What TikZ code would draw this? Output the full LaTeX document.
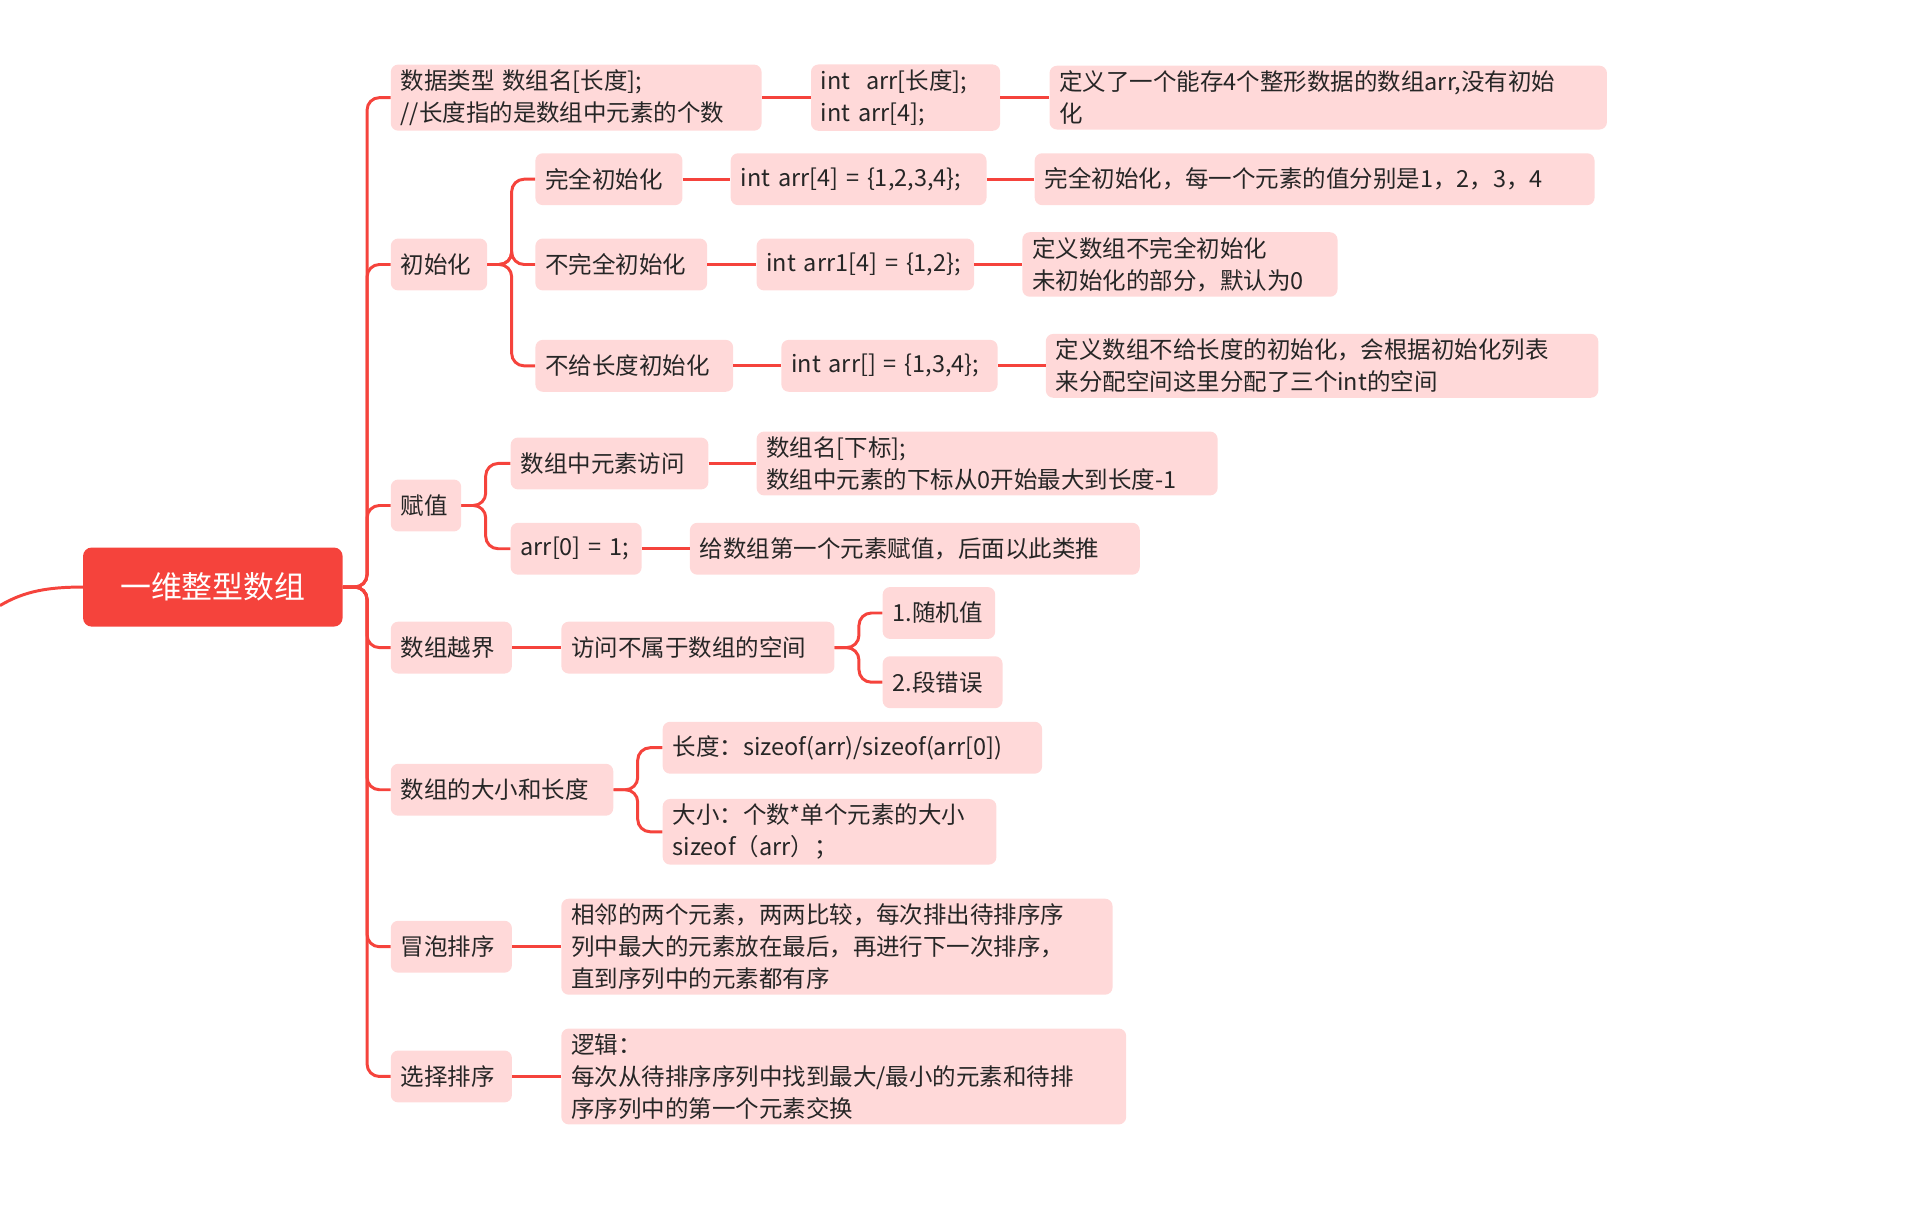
\documentclass[tikz,border=0pt]{standalone}
\usepackage{fontspec}
\setmainfont{Noto Sans CJK SC}
\begin{document}
\begin{tikzpicture}[x=1pt,y=-1pt,
  bx/.style={fill=pinkbg,rounded corners=6pt,anchor=west,inner xsep=8pt,inner ysep=4pt,align=left,font=\fontsize{19}{26}\selectfont,text=black!85,minimum height=42pt},
  conn/.style={draw=linered,line width=2.4pt,rounded corners=10pt}]
\definecolor{pinkbg}{HTML}{FFD9D9}
\definecolor{linered}{HTML}{F5433C}
\useasboundingbox (0,0) rectangle (1560,993);
\newcommand{\B}[5]{\node[bx,text width={#3-#2-16pt}] (#1) at (#2,#4) {#5};}
\node[fill=linered,rounded corners=7pt,text=white,minimum width=210pt,minimum height=64pt,font=\fontsize{25}{30}\selectfont,anchor=west] (root) at (67,475) {一维整型数组};
\coordinate (lft) at (0,490);
\draw[conn] (lft) .. controls (20,478) and (40,475) .. (root.west);
% level 1
\B{a}{316}{616}{79}{数据类型 数组名[长度];\\//长度指的是数组中元素的个数}
\B{b}{316}{394}{214}{初始化}
\B{c}{316}{373}{409}{赋值}
\B{d}{316}{414}{524}{数组越界}
\B{e}{316}{496}{639}{数组的大小和长度}
\B{f}{316}{414}{766}{冒泡排序}
\B{g}{316}{414}{871}{选择排序}
\coordinate (t) at (297,0);
\foreach \n in {a,b,c,d,e,f,g}{\draw[conn] (root.east) -- (root.east -| t) |- (\n.west);}
% a
\B{a1}{656}{809}{79}{int\ \ arr[长度];\\int arr[4];}
\B{a2}{849}{1300}{79}{定义了一个能存4个整形数据的数组arr,没有初始\\化}
\draw[conn] (a.east) -- (a1.west); \draw[conn] (a1.east) -- (a2.west);
% b
\B{b1}{433}{552}{145}{完全初始化}
\B{b2}{433}{572}{214}{不完全初始化}
\B{b3}{433}{593}{296}{不给长度初始化}
\coordinate (tb) at (414,0);
\foreach \n in {b1,b2,b3}{\draw[conn] (b.east) -- (b.east -| tb) |- (\n.west);}
\B{b11}{591}{798}{145}{int arr[4] = \{1,2,3,4\};}
\B{b12}{837}{1290}{145}{完全初始化，每一个元素的值分别是1，2，3，4}
\B{b21}{612}{788}{214}{int arr1[4] = \{1,2\};}
\B{b22}{827}{1082}{214}{定义数组不完全初始化\\未初始化的部分，默认为0}
\B{b31}{632}{807}{296}{int arr[] = \{1,3,4\};}
\B{b32}{846}{1293}{296}{定义数组不给长度的初始化，会根据初始化列表\\来分配空间这里分配了三个int的空间}
\draw[conn] (b1.east) -- (b11.west); \draw[conn] (b11.east) -- (b12.west);
\draw[conn] (b2.east) -- (b21.west); \draw[conn] (b21.east) -- (b22.west);
\draw[conn] (b3.east) -- (b31.west); \draw[conn] (b31.east) -- (b32.west);
% c
\B{c1}{413}{573}{375}{数组中元素访问}
\B{c2}{413}{519}{444}{arr[0] = 1;}
\coordinate (tc) at (393,0);
\foreach \n in {c1,c2}{\draw[conn] (c.east) -- (c.east -| tc) |- (\n.west);}
\B{c11}{612}{985}{375}{数组名[下标];\\数组中元素的下标从0开始最大到长度-1}
\B{c21}{558}{922}{444}{给数组第一个元素赋值，后面以此类推}
\draw[conn] (c1.east) -- (c11.west); \draw[conn] (c2.east) -- (c21.west);
% d
\B{d1}{454}{675}{524}{访问不属于数组的空间}
\draw[conn] (d.east) -- (d1.west);
\B{d11}{714}{805}{496}{1.随机值}
\B{d12}{714}{811}{552}{2.段错误}
\coordinate (td) at (695,0);
\foreach \n in {d11,d12}{\draw[conn] (d1.east) -- (d1.east -| td) |- (\n.west);}
% e
\B{e1}{536}{843}{605}{长度：sizeof(arr)/sizeof(arr[0])}
\B{e2}{536}{806}{673}{大小：个数*单个元素的大小\\sizeof（arr）；}
\coordinate (te) at (516,0);
\foreach \n in {e1,e2}{\draw[conn] (e.east) -- (e.east -| te) |- (\n.west);}
% f g
\B{f1}{454}{900}{766}{相邻的两个元素，两两比较，每次排出待排序序\\列中最大的元素放在最后，再进行下一次排序，\\直到序列中的元素都有序}
\B{g1}{454}{911}{871}{逻辑：\\每次从待排序序列中找到最大/最小的元素和待排\\序序列中的第一个元素交换}
\draw[conn] (f.east) -- (f1.west); \draw[conn] (g.east) -- (g1.west);
\end{tikzpicture}
\end{document}
